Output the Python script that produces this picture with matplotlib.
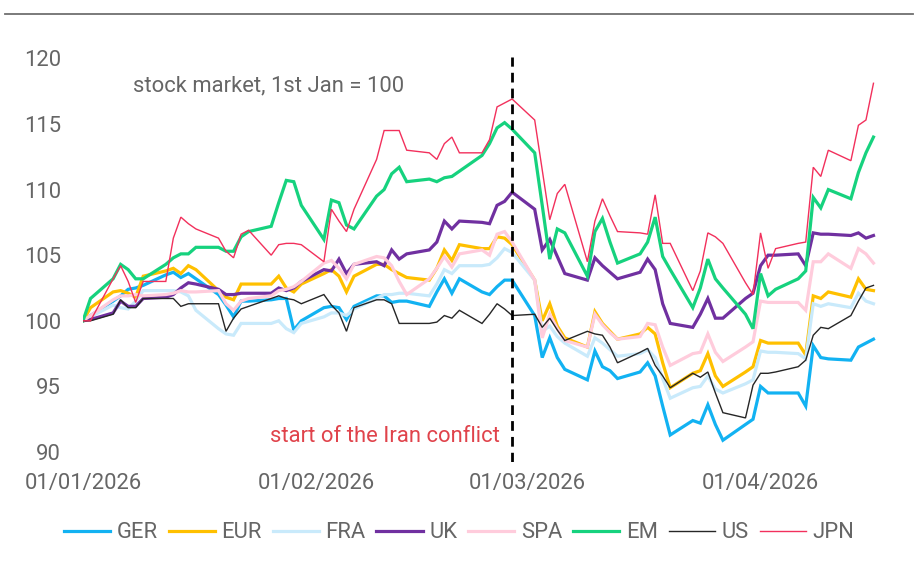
import matplotlib
matplotlib.use("Agg")
import matplotlib.pyplot as plt
import matplotlib.dates as mdates
from matplotlib.lines import Line2D
import pandas as pd

# trading days, 1st Jan = 100
dates = ['2026-01-01', '2026-01-02', '2026-01-05', '2026-01-06', '2026-01-07', '2026-01-08', '2026-01-09',
         '2026-01-12', '2026-01-13', '2026-01-14', '2026-01-15', '2026-01-16',
         '2026-01-19', '2026-01-20', '2026-01-21', '2026-01-22', '2026-01-23',
         '2026-01-26', '2026-01-27', '2026-01-28', '2026-01-29', '2026-01-30',
         '2026-02-02', '2026-02-03', '2026-02-04', '2026-02-05', '2026-02-06',
         '2026-02-09', '2026-02-10', '2026-02-11', '2026-02-12', '2026-02-13',
         '2026-02-16', '2026-02-17', '2026-02-18', '2026-02-19', '2026-02-20',
         '2026-02-23', '2026-02-24', '2026-02-25', '2026-02-26', '2026-02-27',
         '2026-03-02', '2026-03-03', '2026-03-04', '2026-03-05', '2026-03-06',
         '2026-03-09', '2026-03-10', '2026-03-11', '2026-03-12', '2026-03-13',
         '2026-03-16', '2026-03-17', '2026-03-18', '2026-03-19', '2026-03-20',
         '2026-03-23', '2026-03-24', '2026-03-25', '2026-03-26', '2026-03-27',
         '2026-03-30', '2026-03-31', '2026-04-01', '2026-04-02', '2026-04-03',
         '2026-04-06', '2026-04-07', '2026-04-08', '2026-04-09', '2026-04-10',
         '2026-04-13', '2026-04-14', '2026-04-15', '2026-04-16']

ger = [100, 100.4, 101.5, 101.9, 102.4, 102.5, 102.7,
       103.5, 103.7, 103.3, 103.6, 103.2,
       102.0, 101.2, 100.3, 101.5, 101.5,
       101.6, 101.7, 101.7, 99.3, 100.0,
       101.0, 101.1, 101.0, 100.1, 101.1,
       101.9, 101.9, 101.4, 101.5, 101.5,
       101.1, 102.2, 103.2, 102.1, 103.2,
       102.2, 102.0, 102.6, 103.1, 103.1,
       100.4, 97.2, 98.7, 97.2, 96.3,
       95.5, 97.7, 96.5, 96.2, 95.6,
       96.1, 96.8, 95.8, 93.5, 91.3,
       92.4, 92.2, 93.6, 92.1, 90.9,
       92.1, 92.5, 95.0, 94.5, 94.5,
       94.5, 93.5, 98.1, 97.2, 97.1,
       97.0, 98.0, 98.3, 98.6]

eur = [100, 101.0, 102.2, 102.3, 102.1, 101.8, 103.4,
       103.8, 104.0, 103.6, 104.2, 103.9,
       102.3, 101.8, 101.6, 102.8, 102.8,
       102.8, 103.4, 102.5, 102.2, 102.8,
       103.6, 103.9, 103.4, 102.2, 103.4,
       104.3, 104.3, 103.9, 103.6, 103.3,
       103.1, 104.0, 105.4, 104.6, 105.8,
       105.5, 105.5, 106.4, 106.3, 105.8,
       103.1, 100.0, 101.3, 99.6, 98.7,
       98.0, 100.7, 99.8, 99.2, 98.6,
       99.0, 99.5, 99.0, 96.8, 94.9,
       96.0, 96.2, 97.5, 95.8, 95.0,
       96.1, 96.5, 98.5, 98.3, 98.3,
       98.3, 97.4, 101.9, 101.7, 102.2,
       101.8, 103.2, 102.4, 102.3]

fra = [100, 100.3, 101.2, 101.0, 100.9, 101.5, 102.3,
       102.3, 102.3, 102.2, 101.9, 100.8,
       99.4, 99.0, 98.9, 99.8, 99.8,
       99.8, 100.0, 99.4, 99.1, 99.8,
       100.3, 100.6, 100.6, 100.4, 100.9,
       101.7, 102.0, 102.0, 102.1, 102.1,
       101.9, 102.8, 103.9, 103.6, 104.2,
       104.2, 104.3, 104.8, 105.5, 105.2,
       103.1, 99.2, 99.6, 98.8, 98.3,
       97.3, 98.7, 98.3, 97.8, 97.3,
       97.5, 97.8, 97.2, 95.6, 94.1,
       94.9, 95.0, 95.8, 94.8, 94.5,
       95.2, 95.5, 97.7, 97.6, 97.6,
       97.5, 97.1, 101.3, 101.1, 101.3,
       101.0, 102.1, 101.5, 101.3]

uk = [100, 100.1, 100.6, 101.5, 101.1, 101.1, 101.7,
      101.8, 102.0, 102.5, 102.9, 102.8,
      102.4, 102.0, 102.0, 102.1, 102.1,
      102.1, 102.5, 102.3, 102.5, 103.0,
      103.9, 103.8, 104.7, 103.6, 104.3,
      104.5, 104.2, 105.4, 104.7, 105.1,
      105.4, 106.0, 107.6, 107.0, 107.6,
      107.5, 107.4, 108.8, 109.1, 109.8,
      108.5, 105.4, 106.2, 104.9, 103.6,
      103.1, 104.8, 104.2, 103.7, 103.2,
      103.7, 104.7, 103.9, 101.3, 99.8,
      99.5, 100.5, 101.7, 100.2, 100.2,
      101.7, 102.1, 104.2, 105.0, 105.0,
      105.1, 104.2, 106.7, 106.6, 106.6,
      106.5, 106.7, 106.3, 106.5]

spa = [100, 100.4, 101.6, 101.9, 101.9, 102.0, 101.9,
       102.0, 102.1, 102.3, 102.2, 102.2,
       102.3, 101.3, 100.8, 101.5, 101.7,
       101.9, 102.3, 102.4, 102.6, 103.0,
       104.4, 104.6, 104.0, 103.2, 104.3,
       104.9, 104.8, 104.2, 103.0, 102.0,
       103.2, 104.0, 104.9, 104.1, 105.1,
       105.4, 105.0, 106.6, 106.8, 106.0,
       103.1, 98.7, 100.5, 99.4, 98.5,
       98.0, 100.5, 99.7, 99.1, 98.6,
       98.8, 99.8, 99.7, 98.0, 96.6,
       97.5, 97.6, 99.0, 97.6, 96.9,
       98.0, 98.4, 101.5, 101.4, 101.4,
       101.4, 100.8, 104.5, 104.5, 105.1,
       104.0, 105.5, 105.1, 104.4]

em = [100, 101.7, 103.2, 104.3, 103.9, 103.2, 103.2,
      104.3, 104.8, 105.1, 105.1, 105.6,
      105.6, 105.3, 105.3, 106.4, 106.8,
      107.2, 109.0, 110.7, 110.6, 108.8,
      106.2, 109.2, 109.0, 107.3, 107.0,
      109.5, 110.0, 111.2, 111.7, 110.6,
      110.8, 110.6, 110.9, 111.0, 111.4,
      112.6, 113.5, 114.7, 115.1, 114.6,
      112.8, 108.8, 104.7, 107.0, 106.7,
      103.4, 106.8, 107.8, 106.0, 104.4,
      105.1, 106.0, 107.9, 104.9, 103.9,
      101.0, 102.5, 104.7, 103.2, 102.5,
      100.5, 99.4, 103.6, 101.9, 102.4,
      103.2, 103.8, 109.4, 108.6, 110.0,
      109.3, 111.3, 112.8, 114.0]

us = [100, 100.0, 100.5, 101.6, 101.0, 101.0, 101.7,
      101.7, 101.7, 101.1, 101.3, 101.3,
      101.3, 99.2, 100.2, 100.9, 101.1,
      101.7, 101.9, 101.7, 101.6, 101.3,
      102.0, 101.2, 100.6, 99.2, 101.0,
      101.6, 101.6, 101.3, 99.8, 99.8,
      99.8, 99.9, 100.4, 100.2, 100.8,
      99.8, 100.5, 101.3, 100.9, 100.4,
      100.5, 99.5, 100.2, 99.3, 98.5,
      99.2, 99.0, 98.9, 98.0, 96.8,
      97.6, 97.9, 96.6, 95.8, 94.9,
      96.0, 95.7, 96.1, 94.5, 93.0,
      92.6, 95.1, 96.0, 96.0, 96.1,
      96.5, 97.0, 98.9, 99.5, 99.4,
      100.4, 101.5, 102.5, 102.7]

jpn = [100, 100.0, 103.2, 104.2, 103.0, 101.4, 103.0,
       103.0, 106.3, 107.9, 107.4, 107.0,
       106.3, 105.3, 104.8, 106.6, 106.9,
       105.0, 105.8, 105.9, 105.9, 105.8,
       104.5, 108.5, 107.6, 106.8, 108.5,
       112.3, 114.5, 114.5, 114.5, 113.0,
       112.8, 112.3, 113.5, 114.0, 112.8,
       112.8, 113.8, 116.3, 116.6, 116.9,
       115.3, 111.5, 107.7, 109.7, 110.4,
       104.5, 107.6, 109.3, 108.0, 106.8,
       106.7, 106.6, 109.6, 105.9, 105.9,
       102.3, 103.8, 106.7, 106.4, 105.9,
       102.9, 102.0, 106.7, 104.0, 105.5,
       105.9, 106.0, 111.7, 111.0, 113.0,
       112.2, 114.9, 115.3, 118.1]

names = ['GER', 'EUR', 'FRA', 'UK', 'SPA', 'EM', 'US', 'JPN']
series = [ger, eur, fra, uk, spa, em, us, jpn]
colors = ['#12B2F2', '#FFC000', '#C9EAFB', '#7030A0', '#FFCCDC', '#16D27E', '#262626', '#F2305C']
widths = [2.3, 2.3, 2.3, 2.3, 2.3, 2.3, 1.0, 1.0]

conflict_date = '2026-02-27'
tick_dates = ['2026-01-01', '2026-02-01', '2026-03-01', '2026-04-01']

plt.rcParams['font.family'] = ['Roboto', 'DejaVu Sans']
grey = '#666666'
fs = 15.8

x = pd.to_datetime(dates)
fig = plt.figure(figsize=(9.18, 5.68), dpi=100)
ax = fig.add_axes([0.0904, 0.1866, 0.8693, 0.713])

for name, vals, c, w in zip(names, series, colors, widths):
    ax.plot(x, vals, color=c, lw=w, label=name, solid_joinstyle='miter')

ax.axvline(pd.Timestamp(conflict_date), color='black', lw=2, ls=(0, (3.5, 2.2)), zorder=5)

ax.set_xlim(pd.Timestamp('2026-01-01'), pd.Timestamp('2026-04-17'))
ax.set_ylim(89.24, 120.1)
ax.set_yticks([90, 95, 100, 105, 110, 115, 120])
ax.set_xticks(pd.to_datetime(tick_dates))
ax.xaxis.set_major_formatter(mdates.DateFormatter('%d/%m/%Y'))
ax.tick_params(length=0, labelsize=fs, colors=grey)
ax.tick_params(axis='y', pad=16)
ax.tick_params(axis='x', pad=8)
for s in ax.spines.values():
    s.set_visible(False)

ax.text(0.063, 0.928, 'stock market, 1st Jan = 100', transform=ax.transAxes,
        fontsize=fs, color=grey, va='center', ha='left')
ax.text(0.522, 0.064, 'start of the Iran conflict', transform=ax.transAxes,
        fontsize=fs, color='#E0434B', va='center', ha='right')

fig.legend(loc='center', bbox_to_anchor=(0.5, 0.062), ncol=8, frameon=False,
           fontsize=fs, handlelength=2.1, handletextpad=0.3, columnspacing=0.5,
           labelcolor=grey)

fig.add_artist(Line2D([0.005, 0.995], [0.975, 0.975], color='#6f6f6f', lw=1.3,
                      transform=fig.transFigure))

fig.savefig('out.png', dpi=100)
